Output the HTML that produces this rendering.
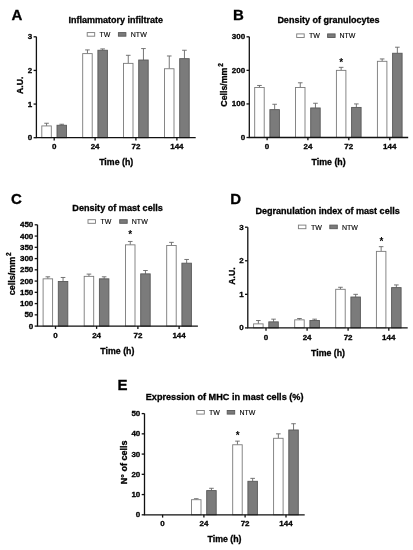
<!DOCTYPE html>
<html><head><meta charset="utf-8"><style>
html,body{margin:0;padding:0;background:#fff;}
body{width:413px;height:550px;overflow:hidden;}
svg{display:block;font-family:"Liberation Sans", Arial, sans-serif;}
.let{font-size:15px;font-weight:bold;fill:#000;stroke:#000;stroke-width:0.3px;}
.tit{font-size:9px;font-weight:bold;fill:#000;stroke:#000;stroke-width:0.3px;text-anchor:middle;}
.leg{font-size:7px;fill:#000;stroke:#000;stroke-width:0.12px;}
.tk{font-size:8px;font-weight:bold;fill:#000;stroke:#000;stroke-width:0.3px;}
.yl{font-weight:bold;fill:#000;stroke:#000;stroke-width:0.3px;}
.sup{font-size:6.5px;}
.xl{font-size:8.8px;font-weight:bold;fill:#000;stroke:#000;stroke-width:0.3px;}
.star{font-size:10px;font-weight:bold;fill:#000;}
.ax{stroke:#111;stroke-width:1.3;fill:none;}
.err{stroke:#666;stroke-width:0.9;}
.wbar{fill:#fff;stroke:#7a7a7a;stroke-width:0.9;}
.gbar{fill:#7b7b7b;stroke:#585858;stroke-width:0.9;}
</style></head><body>
<svg width="413" height="550" viewBox="0 0 413 550">
<rect width="413" height="550" fill="#fff"/>
<text x="11.4" y="19.8" class="let">A</text>
<text x="115.85" y="23.3" class="tit" style="font-size:9px">Inflammatory infiltrate</text>
<rect x="87.2" y="32.6" width="7.5" height="3.6" class="wbar"/>
<text x="99.5" y="37.1" class="leg">TW</text>
<rect x="118.4" y="32.6" width="7.5" height="3.6" class="gbar"/>
<text x="130.8" y="37.1" class="leg">NTW</text>
<line x1="46.55" y1="125.93" x2="46.55" y2="123.24" class="err"/>
<line x1="44.25" y1="123.24" x2="48.85" y2="123.24" class="err"/>
<rect x="41.8" y="125.93" width="9.5" height="11.77" class="wbar"/>
<line x1="61.75" y1="125.26" x2="61.75" y2="124.25" class="err"/>
<line x1="59.45" y1="124.25" x2="64.05" y2="124.25" class="err"/>
<rect x="57" y="125.26" width="9.5" height="12.44" class="gbar"/>
<line x1="87.45" y1="53.62" x2="87.45" y2="49.92" class="err"/>
<line x1="85.15" y1="49.92" x2="89.75" y2="49.92" class="err"/>
<rect x="82.7" y="53.62" width="9.5" height="84.08" class="wbar"/>
<line x1="102.65" y1="50.25" x2="102.65" y2="48.91" class="err"/>
<line x1="100.35" y1="48.91" x2="104.95" y2="48.91" class="err"/>
<rect x="97.9" y="50.25" width="9.5" height="87.45" class="gbar"/>
<line x1="128.25" y1="63.37" x2="128.25" y2="55.3" class="err"/>
<line x1="125.95" y1="55.3" x2="130.55" y2="55.3" class="err"/>
<rect x="123.5" y="63.37" width="9.5" height="74.33" class="wbar"/>
<line x1="143.45" y1="60.01" x2="143.45" y2="48.57" class="err"/>
<line x1="141.15" y1="48.57" x2="145.75" y2="48.57" class="err"/>
<rect x="138.7" y="60.01" width="9.5" height="77.69" class="gbar"/>
<line x1="169.25" y1="68.75" x2="169.25" y2="55.97" class="err"/>
<line x1="166.95" y1="55.97" x2="171.55" y2="55.97" class="err"/>
<rect x="164.5" y="68.75" width="9.5" height="68.95" class="wbar"/>
<line x1="184.45" y1="58.66" x2="184.45" y2="50.25" class="err"/>
<line x1="182.15" y1="50.25" x2="186.75" y2="50.25" class="err"/>
<rect x="179.7" y="58.66" width="9.5" height="79.04" class="gbar"/>
<path d="M36.4 36.8V137.7H195.7" class="ax"/>
<line x1="33.6" y1="137.7" x2="36.4" y2="137.7" class="ax"/>
<text x="32.2" y="140.2" class="tk" text-anchor="end">0</text>
<line x1="33.6" y1="104.07" x2="36.4" y2="104.07" class="ax"/>
<text x="32.2" y="106.57" class="tk" text-anchor="end">1</text>
<line x1="33.6" y1="70.43" x2="36.4" y2="70.43" class="ax"/>
<text x="32.2" y="72.93" class="tk" text-anchor="end">2</text>
<line x1="33.6" y1="36.8" x2="36.4" y2="36.8" class="ax"/>
<text x="32.2" y="39.3" class="tk" text-anchor="end">3</text>
<line x1="54.2" y1="137.7" x2="54.2" y2="140.5" class="ax"/>
<text x="54.2" y="149" class="tk" text-anchor="middle">0</text>
<line x1="95.1" y1="137.7" x2="95.1" y2="140.5" class="ax"/>
<text x="95.1" y="149" class="tk" text-anchor="middle">24</text>
<line x1="135.9" y1="137.7" x2="135.9" y2="140.5" class="ax"/>
<text x="135.9" y="149" class="tk" text-anchor="middle">72</text>
<line x1="176.9" y1="137.7" x2="176.9" y2="140.5" class="ax"/>
<text x="176.9" y="149" class="tk" text-anchor="middle">144</text>
<text transform="translate(23.1 93.9) rotate(-90)" class="yl" style="font-size:8.6px">A.U.</text>
<text x="116.2" y="164.8" class="xl" text-anchor="middle">Time (h)</text>
<text x="233.1" y="19.8" class="let">B</text>
<text x="328.4" y="23" class="tit" style="font-size:9px">Density of granulocytes</text>
<rect x="296.7" y="33.9" width="7.5" height="3.6" class="wbar"/>
<text x="309" y="38.4" class="leg">TW</text>
<rect x="327.6" y="33.9" width="7.5" height="3.6" class="gbar"/>
<text x="339.5" y="38.4" class="leg">NTW</text>
<line x1="259.45" y1="87.49" x2="259.45" y2="85.47" class="err"/>
<line x1="257.15" y1="85.47" x2="261.75" y2="85.47" class="err"/>
<rect x="254.7" y="87.49" width="9.5" height="50.01" class="wbar"/>
<line x1="274.65" y1="109.64" x2="274.65" y2="104.27" class="err"/>
<line x1="272.35" y1="104.27" x2="276.95" y2="104.27" class="err"/>
<rect x="269.9" y="109.64" width="9.5" height="27.86" class="gbar"/>
<line x1="300.25" y1="87.49" x2="300.25" y2="82.79" class="err"/>
<line x1="297.95" y1="82.79" x2="302.55" y2="82.79" class="err"/>
<rect x="295.5" y="87.49" width="9.5" height="50.01" class="wbar"/>
<line x1="315.45" y1="107.96" x2="315.45" y2="103.26" class="err"/>
<line x1="313.15" y1="103.26" x2="317.75" y2="103.26" class="err"/>
<rect x="310.7" y="107.96" width="9.5" height="29.54" class="gbar"/>
<line x1="341.15" y1="70.37" x2="341.15" y2="67.35" class="err"/>
<line x1="338.85" y1="67.35" x2="343.45" y2="67.35" class="err"/>
<rect x="336.4" y="70.37" width="9.5" height="67.13" class="wbar"/>
<line x1="356.35" y1="107.42" x2="356.35" y2="103.93" class="err"/>
<line x1="354.05" y1="103.93" x2="358.65" y2="103.93" class="err"/>
<rect x="351.6" y="107.42" width="9.5" height="30.08" class="gbar"/>
<line x1="382.15" y1="61.3" x2="382.15" y2="58.95" class="err"/>
<line x1="379.85" y1="58.95" x2="384.45" y2="58.95" class="err"/>
<rect x="377.4" y="61.3" width="9.5" height="76.2" class="wbar"/>
<line x1="397.35" y1="53.25" x2="397.35" y2="47.21" class="err"/>
<line x1="395.05" y1="47.21" x2="399.65" y2="47.21" class="err"/>
<rect x="392.6" y="53.25" width="9.5" height="84.25" class="gbar"/>
<text x="341.3" y="65.8" class="star" text-anchor="middle">*</text>
<path d="M249.3 36.8V137.5H408.2" class="ax"/>
<line x1="246.5" y1="137.5" x2="249.3" y2="137.5" class="ax"/>
<text x="245.1" y="140" class="tk" text-anchor="end">0</text>
<line x1="246.5" y1="103.93" x2="249.3" y2="103.93" class="ax"/>
<text x="245.1" y="106.43" class="tk" text-anchor="end">100</text>
<line x1="246.5" y1="70.37" x2="249.3" y2="70.37" class="ax"/>
<text x="245.1" y="72.87" class="tk" text-anchor="end">200</text>
<line x1="246.5" y1="36.8" x2="249.3" y2="36.8" class="ax"/>
<text x="245.1" y="39.3" class="tk" text-anchor="end">300</text>
<line x1="267.1" y1="137.5" x2="267.1" y2="140.3" class="ax"/>
<text x="267.1" y="148.8" class="tk" text-anchor="middle">0</text>
<line x1="307.9" y1="137.5" x2="307.9" y2="140.3" class="ax"/>
<text x="307.9" y="148.8" class="tk" text-anchor="middle">24</text>
<line x1="348.8" y1="137.5" x2="348.8" y2="140.3" class="ax"/>
<text x="348.8" y="148.8" class="tk" text-anchor="middle">72</text>
<line x1="389.8" y1="137.5" x2="389.8" y2="140.3" class="ax"/>
<text x="389.8" y="148.8" class="tk" text-anchor="middle">144</text>
<text transform="translate(226.8 106.7) rotate(-90)" class="yl" style="font-size:8.8px">Cells/mm<tspan class="sup" dx="0.8" dy="-4">2</tspan></text>
<text x="328.6" y="165.2" class="xl" text-anchor="middle">Time (h)</text>
<text x="11.1" y="203.5" class="let">C</text>
<text x="117.6" y="211" class="tit" style="font-size:9.1px">Density of mast cells</text>
<rect x="88" y="219.7" width="7.5" height="3.6" class="wbar"/>
<text x="100.5" y="224.2" class="leg">TW</text>
<rect x="119.7" y="219.7" width="7.5" height="3.6" class="gbar"/>
<text x="131.8" y="224.2" class="leg">NTW</text>
<line x1="47.85" y1="278.83" x2="47.85" y2="276.8" class="err"/>
<line x1="45.55" y1="276.8" x2="50.15" y2="276.8" class="err"/>
<rect x="43.1" y="278.83" width="9.5" height="47.27" class="wbar"/>
<line x1="63.05" y1="281.53" x2="63.05" y2="277.48" class="err"/>
<line x1="60.75" y1="277.48" x2="65.35" y2="277.48" class="err"/>
<rect x="58.3" y="281.53" width="9.5" height="44.57" class="gbar"/>
<line x1="88.95" y1="276.35" x2="88.95" y2="274.1" class="err"/>
<line x1="86.65" y1="274.1" x2="91.25" y2="274.1" class="err"/>
<rect x="84.2" y="276.35" width="9.5" height="49.75" class="wbar"/>
<line x1="104.15" y1="278.83" x2="104.15" y2="276.8" class="err"/>
<line x1="101.85" y1="276.8" x2="106.45" y2="276.8" class="err"/>
<rect x="99.4" y="278.83" width="9.5" height="47.27" class="gbar"/>
<line x1="130.25" y1="244.83" x2="130.25" y2="241.46" class="err"/>
<line x1="127.95" y1="241.46" x2="132.55" y2="241.46" class="err"/>
<rect x="125.5" y="244.83" width="9.5" height="81.27" class="wbar"/>
<line x1="145.45" y1="273.87" x2="145.45" y2="270.5" class="err"/>
<line x1="143.15" y1="270.5" x2="147.75" y2="270.5" class="err"/>
<rect x="140.7" y="273.87" width="9.5" height="52.23" class="gbar"/>
<line x1="171.45" y1="245.51" x2="171.45" y2="242.36" class="err"/>
<line x1="169.15" y1="242.36" x2="173.75" y2="242.36" class="err"/>
<rect x="166.7" y="245.51" width="9.5" height="80.59" class="wbar"/>
<line x1="186.65" y1="263.18" x2="186.65" y2="259.47" class="err"/>
<line x1="184.35" y1="259.47" x2="188.95" y2="259.47" class="err"/>
<rect x="181.9" y="263.18" width="9.5" height="62.92" class="gbar"/>
<text x="130.3" y="238.4" class="star" text-anchor="middle">*</text>
<path d="M37.5 224.8V326.1H197.9" class="ax"/>
<line x1="34.7" y1="326.1" x2="37.5" y2="326.1" class="ax"/>
<text x="33.3" y="328.6" class="tk" text-anchor="end">0</text>
<line x1="34.7" y1="314.84" x2="37.5" y2="314.84" class="ax"/>
<text x="33.3" y="317.34" class="tk" text-anchor="end">50</text>
<line x1="34.7" y1="303.59" x2="37.5" y2="303.59" class="ax"/>
<text x="33.3" y="306.09" class="tk" text-anchor="end">100</text>
<line x1="34.7" y1="292.33" x2="37.5" y2="292.33" class="ax"/>
<text x="33.3" y="294.83" class="tk" text-anchor="end">150</text>
<line x1="34.7" y1="281.08" x2="37.5" y2="281.08" class="ax"/>
<text x="33.3" y="283.58" class="tk" text-anchor="end">200</text>
<line x1="34.7" y1="269.82" x2="37.5" y2="269.82" class="ax"/>
<text x="33.3" y="272.32" class="tk" text-anchor="end">250</text>
<line x1="34.7" y1="258.57" x2="37.5" y2="258.57" class="ax"/>
<text x="33.3" y="261.07" class="tk" text-anchor="end">300</text>
<line x1="34.7" y1="247.31" x2="37.5" y2="247.31" class="ax"/>
<text x="33.3" y="249.81" class="tk" text-anchor="end">350</text>
<line x1="34.7" y1="236.06" x2="37.5" y2="236.06" class="ax"/>
<text x="33.3" y="238.56" class="tk" text-anchor="end">400</text>
<line x1="34.7" y1="224.8" x2="37.5" y2="224.8" class="ax"/>
<text x="33.3" y="227.3" class="tk" text-anchor="end">450</text>
<line x1="55.5" y1="326.1" x2="55.5" y2="328.9" class="ax"/>
<text x="55.5" y="337.9" class="tk" text-anchor="middle">0</text>
<line x1="96.6" y1="326.1" x2="96.6" y2="328.9" class="ax"/>
<text x="96.6" y="337.9" class="tk" text-anchor="middle">24</text>
<line x1="137.9" y1="326.1" x2="137.9" y2="328.9" class="ax"/>
<text x="137.9" y="337.9" class="tk" text-anchor="middle">72</text>
<line x1="179.1" y1="326.1" x2="179.1" y2="328.9" class="ax"/>
<text x="179.1" y="337.9" class="tk" text-anchor="middle">144</text>
<text transform="translate(14.8 295.3) rotate(-90)" class="yl" style="font-size:9px">cells/mm<tspan class="sup" dx="0.8" dy="-4">2</tspan></text>
<text x="117.4" y="354.1" class="xl" text-anchor="middle">Time (h)</text>
<text x="230.3" y="203.6" class="let">D</text>
<text x="327.6" y="213.7" class="tit" style="font-size:9.05px">Degranulation index of mast cells</text>
<rect x="298.4" y="225.1" width="7.5" height="3.6" class="wbar"/>
<text x="311" y="229.6" class="leg">TW</text>
<rect x="329.8" y="225.1" width="7.5" height="3.6" class="gbar"/>
<text x="342" y="229.6" class="leg">NTW</text>
<line x1="258.35" y1="323.87" x2="258.35" y2="320.52" class="err"/>
<line x1="256.05" y1="320.52" x2="260.65" y2="320.52" class="err"/>
<rect x="253.6" y="323.87" width="9.5" height="4.03" class="wbar"/>
<line x1="273.55" y1="321.86" x2="273.55" y2="319.17" class="err"/>
<line x1="271.25" y1="319.17" x2="275.85" y2="319.17" class="err"/>
<rect x="268.8" y="321.86" width="9.5" height="6.04" class="gbar"/>
<line x1="299.45" y1="319.84" x2="299.45" y2="318.5" class="err"/>
<line x1="297.15" y1="318.5" x2="301.75" y2="318.5" class="err"/>
<rect x="294.7" y="319.84" width="9.5" height="8.06" class="wbar"/>
<line x1="314.65" y1="320.52" x2="314.65" y2="319.17" class="err"/>
<line x1="312.35" y1="319.17" x2="316.95" y2="319.17" class="err"/>
<rect x="309.9" y="320.52" width="9.5" height="7.38" class="gbar"/>
<line x1="340.45" y1="289.3" x2="340.45" y2="287.28" class="err"/>
<line x1="338.15" y1="287.28" x2="342.75" y2="287.28" class="err"/>
<rect x="335.7" y="289.3" width="9.5" height="38.6" class="wbar"/>
<line x1="355.65" y1="297.02" x2="355.65" y2="294.33" class="err"/>
<line x1="353.35" y1="294.33" x2="357.95" y2="294.33" class="err"/>
<rect x="350.9" y="297.02" width="9.5" height="30.88" class="gbar"/>
<line x1="381.15" y1="251.37" x2="381.15" y2="246.67" class="err"/>
<line x1="378.85" y1="246.67" x2="383.45" y2="246.67" class="err"/>
<rect x="376.4" y="251.37" width="9.5" height="76.53" class="wbar"/>
<line x1="396.35" y1="287.62" x2="396.35" y2="284.93" class="err"/>
<line x1="394.05" y1="284.93" x2="398.65" y2="284.93" class="err"/>
<rect x="391.6" y="287.62" width="9.5" height="40.28" class="gbar"/>
<text x="381.4" y="245.1" class="star" text-anchor="middle">*</text>
<path d="M247.8 227.2V327.9H407.7" class="ax"/>
<line x1="245" y1="327.9" x2="247.8" y2="327.9" class="ax"/>
<text x="243.6" y="330.4" class="tk" text-anchor="end">0</text>
<line x1="245" y1="294.33" x2="247.8" y2="294.33" class="ax"/>
<text x="243.6" y="296.83" class="tk" text-anchor="end">1</text>
<line x1="245" y1="260.77" x2="247.8" y2="260.77" class="ax"/>
<text x="243.6" y="263.27" class="tk" text-anchor="end">2</text>
<line x1="245" y1="227.2" x2="247.8" y2="227.2" class="ax"/>
<text x="243.6" y="229.7" class="tk" text-anchor="end">3</text>
<line x1="266" y1="327.9" x2="266" y2="330.7" class="ax"/>
<text x="266" y="339.5" class="tk" text-anchor="middle">0</text>
<line x1="307.1" y1="327.9" x2="307.1" y2="330.7" class="ax"/>
<text x="307.1" y="339.5" class="tk" text-anchor="middle">24</text>
<line x1="348.1" y1="327.9" x2="348.1" y2="330.7" class="ax"/>
<text x="348.1" y="339.5" class="tk" text-anchor="middle">72</text>
<line x1="388.8" y1="327.9" x2="388.8" y2="330.7" class="ax"/>
<text x="388.8" y="339.5" class="tk" text-anchor="middle">144</text>
<text transform="translate(235.3 284.8) rotate(-90)" class="yl" style="font-size:8.8px">A.U.</text>
<text x="328" y="355.7" class="xl" text-anchor="middle">Time (h)</text>
<text x="117.4" y="389.7" class="let">E</text>
<text x="224.6" y="399.6" class="tit" style="font-size:9.15px">Expression of MHC in mast cells (%)</text>
<rect x="196.8" y="410.5" width="7.5" height="3.6" class="wbar"/>
<text x="209" y="415" class="leg">TW</text>
<rect x="227.2" y="410.5" width="7.5" height="3.6" class="gbar"/>
<text x="239.5" y="415" class="leg">NTW</text>
<line x1="196.25" y1="499.7" x2="196.25" y2="498.71" class="err"/>
<line x1="193.95" y1="498.71" x2="198.55" y2="498.71" class="err"/>
<rect x="191.5" y="499.7" width="9.5" height="15.1" class="wbar"/>
<line x1="211.45" y1="490.59" x2="211.45" y2="488.29" class="err"/>
<line x1="209.15" y1="488.29" x2="213.75" y2="488.29" class="err"/>
<rect x="206.7" y="490.59" width="9.5" height="24.21" class="gbar"/>
<line x1="237.45" y1="444.77" x2="237.45" y2="441.13" class="err"/>
<line x1="235.15" y1="441.13" x2="239.75" y2="441.13" class="err"/>
<rect x="232.7" y="444.77" width="9.5" height="70.03" class="wbar"/>
<line x1="252.65" y1="481.3" x2="252.65" y2="478.37" class="err"/>
<line x1="250.35" y1="478.37" x2="254.95" y2="478.37" class="err"/>
<rect x="247.9" y="481.3" width="9.5" height="33.5" class="gbar"/>
<line x1="278.35" y1="438.29" x2="278.35" y2="433.84" class="err"/>
<line x1="276.05" y1="433.84" x2="280.65" y2="433.84" class="err"/>
<rect x="273.6" y="438.29" width="9.5" height="76.51" class="wbar"/>
<line x1="293.55" y1="429.99" x2="293.55" y2="423.72" class="err"/>
<line x1="291.25" y1="423.72" x2="295.85" y2="423.72" class="err"/>
<rect x="288.8" y="429.99" width="9.5" height="84.81" class="gbar"/>
<text x="237.6" y="438.8" class="star" text-anchor="middle">*</text>
<path d="M144.5 413.6V514.8H304.7" class="ax"/>
<line x1="141.7" y1="514.8" x2="144.5" y2="514.8" class="ax"/>
<text x="140.3" y="517.3" class="tk" text-anchor="end">0</text>
<line x1="141.7" y1="494.56" x2="144.5" y2="494.56" class="ax"/>
<text x="140.3" y="497.06" class="tk" text-anchor="end">10</text>
<line x1="141.7" y1="474.32" x2="144.5" y2="474.32" class="ax"/>
<text x="140.3" y="476.82" class="tk" text-anchor="end">20</text>
<line x1="141.7" y1="454.08" x2="144.5" y2="454.08" class="ax"/>
<text x="140.3" y="456.58" class="tk" text-anchor="end">30</text>
<line x1="141.7" y1="433.84" x2="144.5" y2="433.84" class="ax"/>
<text x="140.3" y="436.34" class="tk" text-anchor="end">40</text>
<line x1="141.7" y1="413.6" x2="144.5" y2="413.6" class="ax"/>
<text x="140.3" y="416.1" class="tk" text-anchor="end">50</text>
<line x1="162.6" y1="514.8" x2="162.6" y2="517.6" class="ax"/>
<text x="162.6" y="526.1" class="tk" text-anchor="middle">0</text>
<line x1="203.9" y1="514.8" x2="203.9" y2="517.6" class="ax"/>
<text x="203.9" y="526.1" class="tk" text-anchor="middle">24</text>
<line x1="245.1" y1="514.8" x2="245.1" y2="517.6" class="ax"/>
<text x="245.1" y="526.1" class="tk" text-anchor="middle">72</text>
<line x1="286" y1="514.8" x2="286" y2="517.6" class="ax"/>
<text x="286" y="526.1" class="tk" text-anchor="middle">144</text>
<text transform="translate(127.3 484.2) rotate(-90)" class="yl" style="font-size:9px">N° of cells</text>
<text x="224.5" y="541.8" class="xl" text-anchor="middle">Time (h)</text>
</svg>
</body></html>
